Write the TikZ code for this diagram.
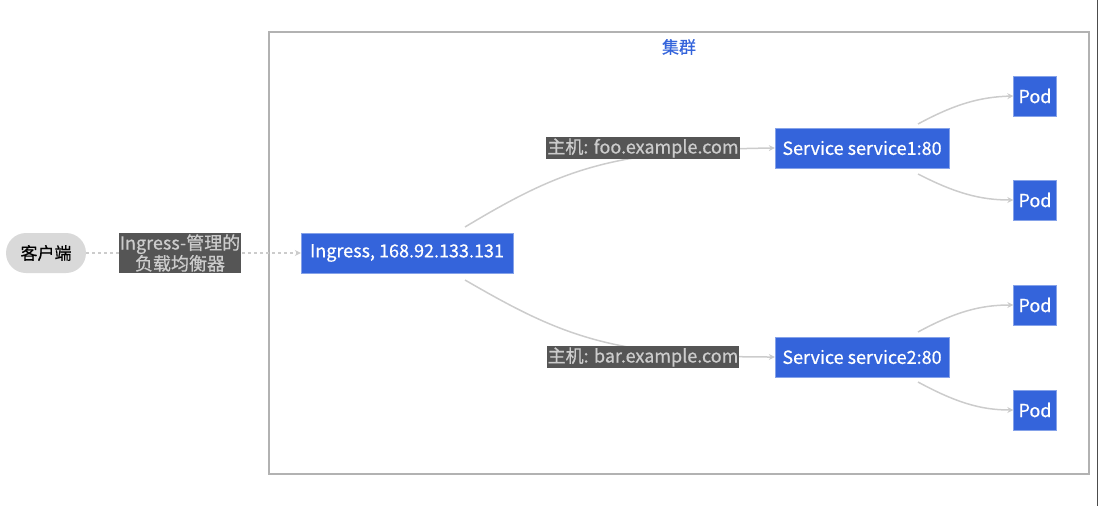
\documentclass[tikz,border=0pt]{standalone}
\usepackage{fontspec}
\setmainfont{Noto Sans CJK SC}[FakeBold=0.6]
\usetikzlibrary{arrows.meta}
\definecolor{bl}{HTML}{3464DB}
\definecolor{edge}{HTML}{CCCCCC}
\definecolor{lblbg}{HTML}{555555}
\begin{document}
\begin{tikzpicture}[x=1pt,y=-1pt,
  box/.style={fill=bl,draw=bl!60!white,text=white,font=\fontsize{18}{21}\selectfont,minimum height=40pt,inner xsep=4pt},
  pod/.style={box,minimum width=43pt,inner xsep=2pt},
  lbl/.style={fill=lblbg,text=edge,font=\fontsize{18}{19}\selectfont,inner sep=1pt,align=center},
  conn/.style={draw=edge,line width=1.5pt,-{Stealth[length=6pt,width=6pt]}}]
\useasboundingbox (0,0) rectangle (1100,506);
\draw[line width=1pt,black!70] (1097,0) -- (1097,506);
\draw[draw=black!30,line width=1.6pt] (269,32) rectangle (1089,474);
\node[text=bl,font=\fontsize{17}{18}\selectfont] (title) at (679,47) {集群};
\node[fill=black!15,rounded corners=20pt,minimum width=80pt,minimum height=40pt,font=\fontsize{17}{18}\selectfont] (client) at (46,253) {客户端};
\node[box,minimum width=212pt] (ing) at (407,253) {Ingress, 168.92.133.131};
\node[box,minimum width=174pt] (s1) at (862,148) {Service service1:80};
\node[box,minimum width=174pt] (s2) at (862,357) {Service service2:80};
\node[pod] (p1) at (1035,96) {Pod};
\node[pod] (p2) at (1035,200) {Pod};
\node[pod] (p3) at (1035,305) {Pod};
\node[pod] (p4) at (1035,410) {Pod};
\coordinate (i1) at (465,227);
\coordinate (i2) at (465,280);
\draw[conn,dashed] (client) -- (ing);
\draw[conn] (i1) .. controls (560,170) and (610,150) .. (s1.west);
\draw[conn] (i2) .. controls (560,335) and (610,357) .. (s2.west);
\coordinate (a1) at (918,124); \coordinate (a2) at (918,174);
\coordinate (a3) at (918,332); \coordinate (a4) at (918,382);
\draw[conn] (a1) .. controls (955,104) and (980,97) .. (p1.west);
\draw[conn] (a2) .. controls (955,193) and (980,200) .. (p2.west);
\draw[conn] (a3) .. controls (955,312) and (980,305) .. (p3.west);
\draw[conn] (a4) .. controls (955,402) and (980,410) .. (p4.west);
\node[lbl] (l0) at (180,253) {Ingress-管理的\\负载均衡器};
\node[lbl] (l1) at (643,148) {主机: foo.example.com};
\node[lbl] (l2) at (643,357) {主机: bar.example.com};
\end{tikzpicture}
\end{document}
